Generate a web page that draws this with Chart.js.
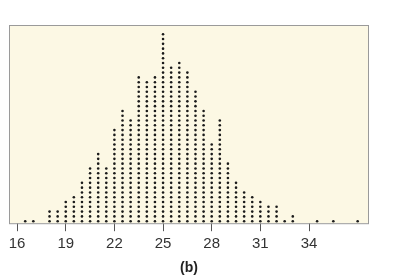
<!DOCTYPE html>
<html>
<head>
<meta charset="utf-8">
<script src="https://cdn.jsdelivr.net/npm/chart.js@4"></script>
<style>
  html, body { margin: 0; padding: 0; background: #fff; }
  #wrap { width: 397px; height: 277px; }
</style>
</head>
<body>
<div id="wrap"><canvas id="dotChart" width="397" height="277"></canvas></div>
<script>
// column positions and dot counts
var values = [16.5, 17, 18, 18.5, 19, 19.5, 20, 20.5, 21, 21.5, 22, 22.5, 23, 23.5, 24, 24.5, 25, 25.5, 26, 26.5, 27, 27.5, 28, 28.5, 29, 29.5, 30, 30.5, 31, 31.5, 32, 32.5, 33, 34.5, 35.5, 37];
var counts = [1, 1, 3, 3, 5, 6, 9, 12, 15, 12, 20, 24, 22, 31, 30, 31, 40, 33, 34, 32, 28, 24, 17, 22, 13, 9, 7, 6, 5, 4, 4, 1, 2, 1, 1, 1];
var tickValues = [16, 19, 22, 25, 28, 31, 34];
var caption = '(b)';

var dots = []
values.forEach((v, i) => {
	for (var k = 1; k <= counts[i]; k++) dots.push({x: v, y: k})
})

// cream panel with grey frame behind the dots
var panel = {
	id: 'panel',
	beforeDatasetsDraw(chart) {
		let a = chart.chartArea, ctx = chart.ctx
		ctx.save()
		ctx.fillStyle = '#fcf8e4'
		ctx.fillRect(a.left, a.top, a.right - a.left, a.bottom - a.top)
		ctx.strokeStyle = '#9a9a9a'
		ctx.lineWidth = 1
		ctx.strokeRect(a.left + 0.5, a.top + 0.5, a.right - a.left - 1, a.bottom - a.top)
		ctx.restore()
	}
}

new Chart(document.getElementById('dotChart'), {
	type: 'scatter',
	data: {
		datasets: [{
			data: dots,
			pointRadius: 1.3,
			pointHoverRadius: 1.3,
			pointBackgroundColor: '#1a1a1a',
			pointBorderWidth: 0
		}]
	},
	options: {
		responsive: false,
		animation: false,
		layout: { padding: { left: 9, right: 28, top: 25, bottom: 0 } },
		plugins: { legend: { display: false }, tooltip: { enabled: false } },
		scales: {
			x: {
				type: 'linear',
				min: 15.5,
				max: 37.7,
				afterBuildTicks: (scale) => { scale.ticks = tickValues.map(v => ({value: v})) },
				grid: {
					drawOnChartArea: false,
					drawTicks: true,
					tickLength: 8,
					color: '#555'
				},
				border: { display: false },
				ticks: {
					padding: 4,
					color: '#333',
					font: { family: 'Liberation Sans, Arial, sans-serif', size: 15 },
					maxRotation: 0,
					autoSkip: false
				},
				title: {
					display: true,
					text: caption,
					color: '#222',
					font: { family: 'Liberation Sans, Arial, sans-serif', size: 14, weight: 'bold' },
					padding: { top: 3, bottom: 0 }
				}
			},
			y: {
				display: false,
				min: 0.58,
				max: 41.93
			}
		}
	},
	plugins: [panel]
})
</script>
</body>
</html>
